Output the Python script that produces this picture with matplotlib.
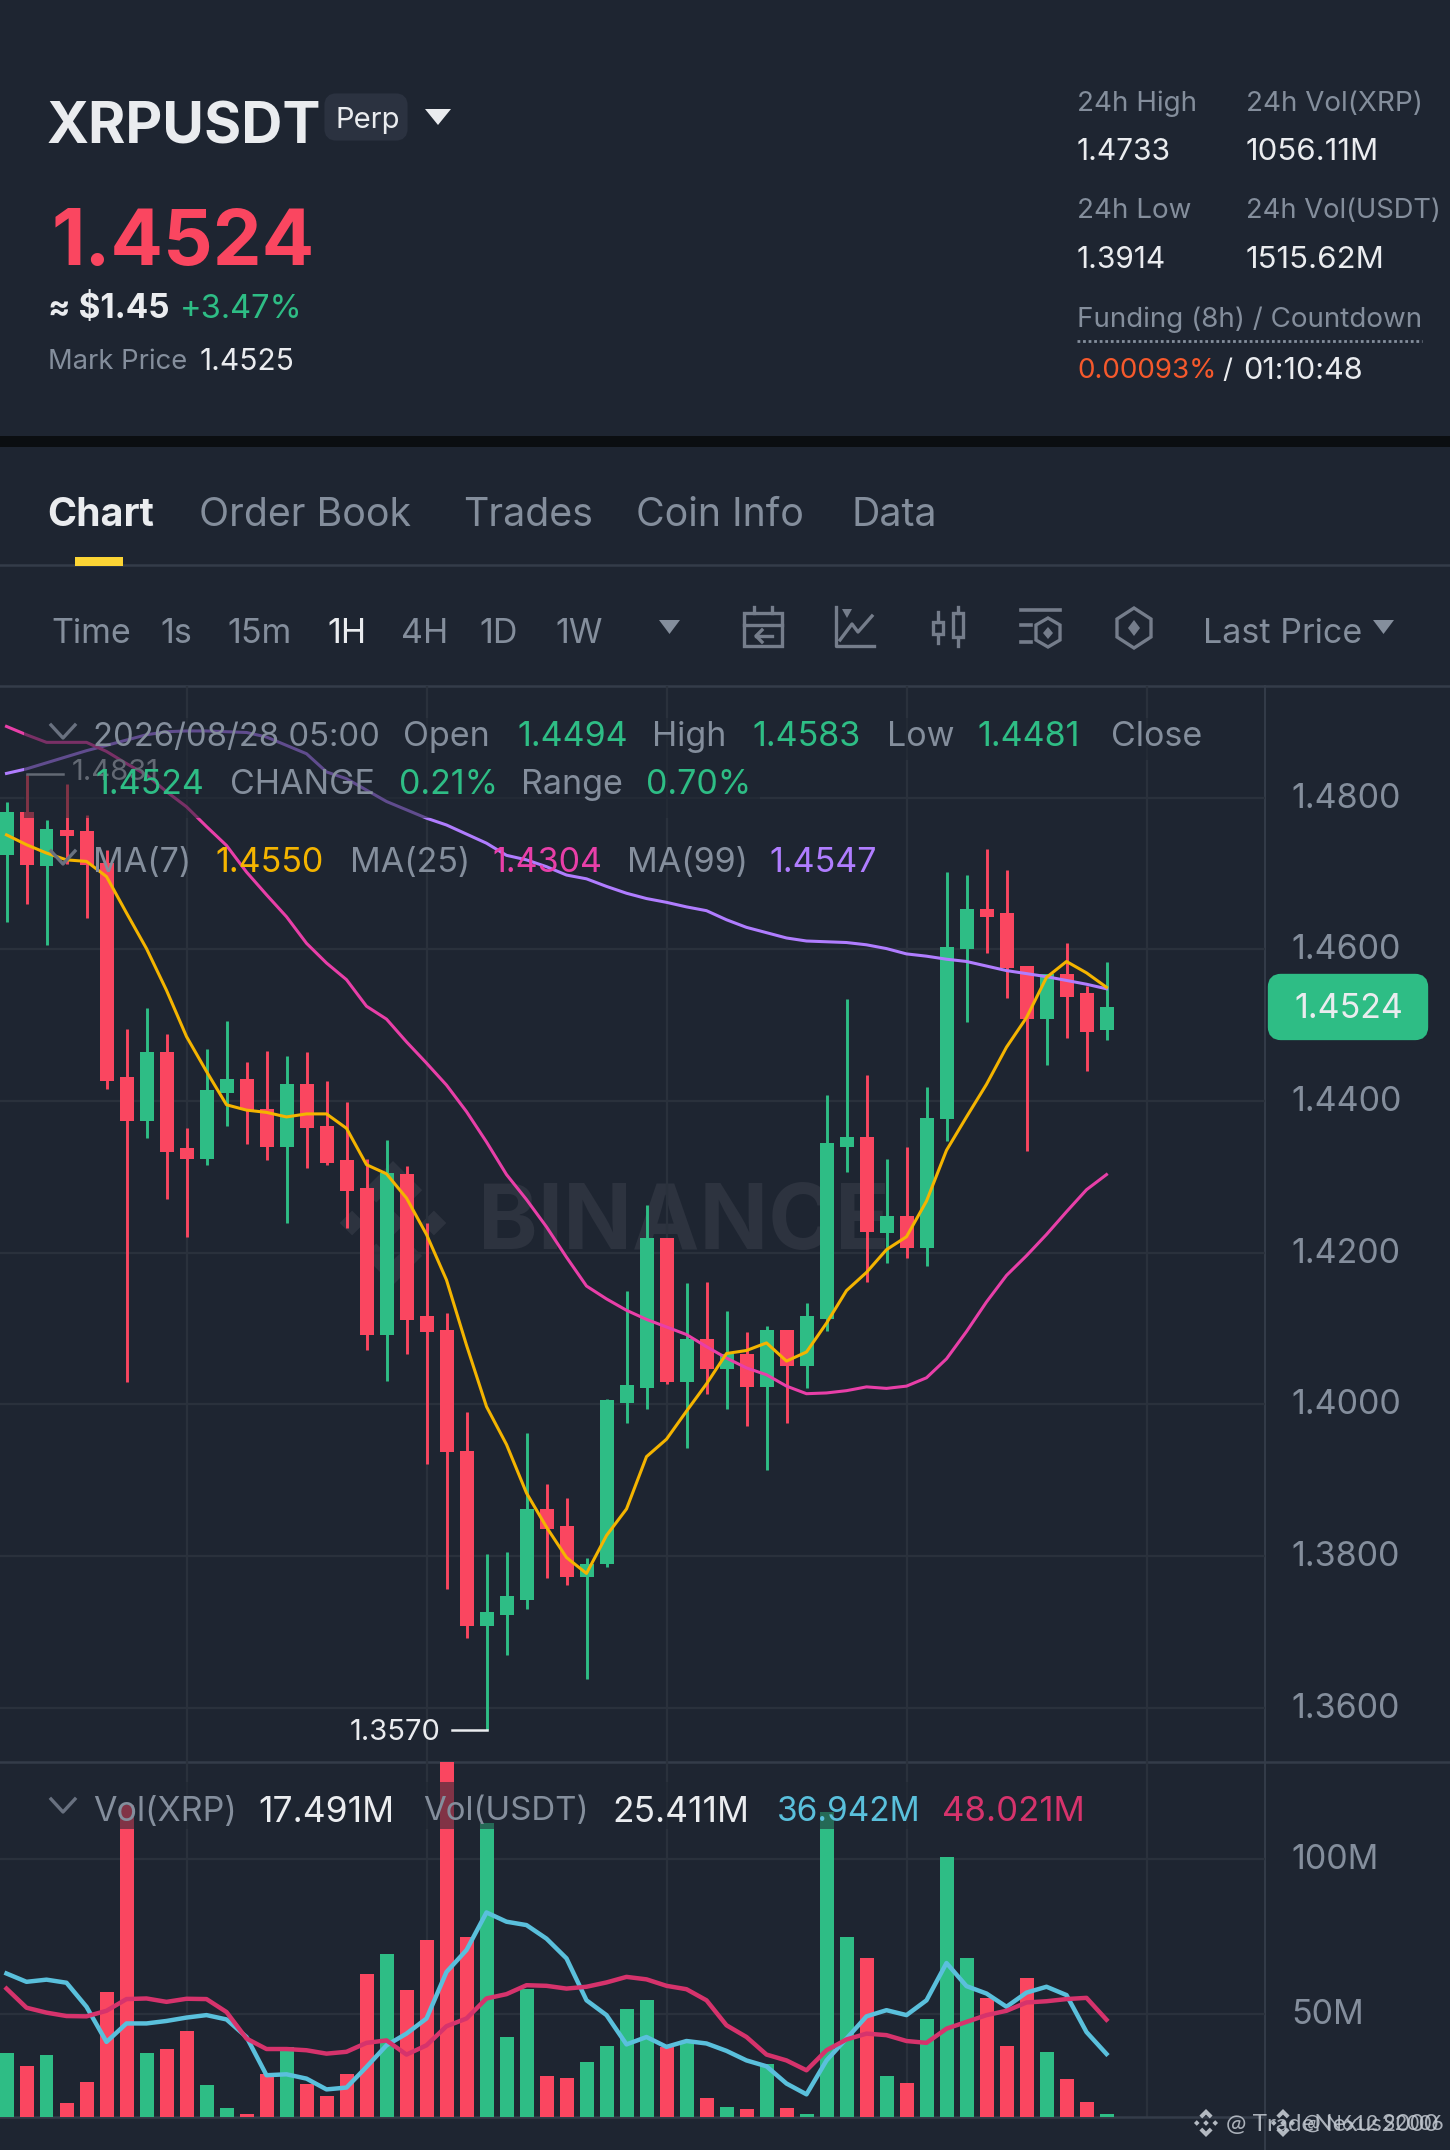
import numpy as np
import matplotlib
matplotlib.use("Agg")
import matplotlib.pyplot as plt
from matplotlib.patches import FancyBboxPatch, Polygon, Rectangle
from matplotlib.transforms import ScaledTranslation

plt.rcParams["font.family"] = ["Inter", "DejaVu Sans"]

# candles
opens = [1.4724, 1.4781, 1.4710, 1.4758, 1.4756, 1.4714, 1.4432, 1.4373, 1.4465, 1.4338, 1.4323, 1.4411, 1.4429, 1.4390,
         1.4340, 1.4422, 1.4367, 1.4322, 1.4285, 1.4091, 1.4304, 1.4116, 1.4098, 1.3939, 1.3708, 1.3722, 1.3742, 1.3862,
         1.3840, 1.3772, 1.3789, 1.4002, 1.4022, 1.4219, 1.4029, 1.4086, 1.4046, 1.4066, 1.4023, 1.4098, 1.4051, 1.4113,
         1.4339, 1.4352, 1.4226, 1.4248, 1.4206, 1.4376, 1.4601, 1.4653, 1.4648, 1.4578, 1.4508, 1.4568, 1.4542, 1.4494]
highs = [1.4794, 1.4831, 1.4771, 1.4818, 1.4777, 1.4731, 1.4495, 1.4522, 1.4489, 1.4365, 1.4469, 1.4505, 1.4451, 1.4466,
         1.4459, 1.4464, 1.4426, 1.4399, 1.4323, 1.4349, 1.4314, 1.4239, 1.4120, 1.3990, 1.3803, 1.3805, 1.3962, 1.3895,
         1.3877, 1.3797, 1.4007, 1.4149, 1.4263, 1.4219, 1.4160, 1.4161, 1.4123, 1.4096, 1.4103, 1.4098, 1.4134, 1.4408,
         1.4535, 1.4434, 1.4323, 1.4339, 1.4418, 1.4702, 1.4698, 1.4732, 1.4704, 1.4578, 1.4568, 1.4609, 1.4552, 1.4583]
lows = [1.4636, 1.4660, 1.4606, 1.4712, 1.4642, 1.4416, 1.4029, 1.4351, 1.4271, 1.4221, 1.4315, 1.4367, 1.4343, 1.4322,
        1.4239, 1.4311, 1.4315, 1.4232, 1.4071, 1.4031, 1.4067, 1.3921, 1.3757, 1.3692, 1.3570, 1.3669, 1.3730, 1.3771,
        1.3762, 1.3638, 1.3786, 1.3975, 1.3994, 1.4027, 1.3942, 1.4013, 1.3994, 1.3971, 1.3914, 1.3975, 1.4021, 1.4097,
        1.4307, 1.4161, 1.4187, 1.4193, 1.4183, 1.4347, 1.4504, 1.4595, 1.4536, 1.4334, 1.4448, 1.4483, 1.4439, 1.4481]
closes = [1.4781, 1.4711, 1.4759, 1.4750, 1.4711, 1.4427, 1.4373, 1.4465, 1.4333, 1.4323, 1.4415, 1.4429, 1.4388, 1.4340,
          1.4422, 1.4364, 1.4318, 1.4281, 1.4091, 1.4305, 1.4111, 1.4095, 1.3937, 1.3708, 1.3726, 1.3747, 1.3862, 1.3836,
          1.3772, 1.3789, 1.4006, 1.4026, 1.4219, 1.4029, 1.4086, 1.4046, 1.4066, 1.4023, 1.4098, 1.4050, 1.4117, 1.4344,
          1.4353, 1.4227, 1.4248, 1.4206, 1.4378, 1.4603, 1.4653, 1.4643, 1.4575, 1.4508, 1.4568, 1.4537, 1.4491, 1.4524]

ma7 = [1.4751, 1.4738, 1.4727, 1.4718, 1.4716, 1.4696, 1.4648, 1.4601, 1.4546, 1.4485, 1.4439, 1.4395, 1.4388, 1.4385,
       1.4379, 1.4383, 1.4383, 1.4364, 1.4316, 1.4304, 1.4272, 1.4224, 1.4164, 1.4078, 1.3997, 1.3947, 1.3883, 1.3838,
       1.3798, 1.3777, 1.3827, 1.3862, 1.3931, 1.3954, 1.3991, 1.4027, 1.4067, 1.4071, 1.4081, 1.4057, 1.4069, 1.4107,
       1.4150, 1.4174, 1.4204, 1.4221, 1.4268, 1.4335, 1.4379, 1.4422, 1.4471, 1.4510, 1.4563, 1.4584, 1.4569, 1.4550]
ma25 = [1.4894, 1.4883, 1.4873, 1.4873, 1.4873, 1.4861, 1.4845, 1.4830, 1.4808, 1.4788, 1.4762, 1.4737, 1.4702, 1.4672,
        1.4643, 1.4608, 1.4582, 1.4560, 1.4525, 1.4508, 1.4478, 1.4450, 1.4421, 1.4386, 1.4346, 1.4303, 1.4270, 1.4234,
        1.4194, 1.4156, 1.4139, 1.4124, 1.4112, 1.4102, 1.4092, 1.4076, 1.4061, 1.4048, 1.4039, 1.4024, 1.4014, 1.4015,
        1.4018, 1.4023, 1.4021, 1.4024, 1.4035, 1.4060, 1.4096, 1.4135, 1.4170, 1.4196, 1.4224, 1.4254, 1.4283, 1.4303]
ma99 = [1.4832, 1.4838, 1.4846, 1.4854, 1.4862, 1.4869, 1.4876, 1.4883, 1.4887, 1.4888, 1.4888, 1.4887, 1.4886, 1.4880,
        1.4869, 1.4858, 1.4834, 1.4825, 1.4810, 1.4795, 1.4784, 1.4773, 1.4764, 1.4752, 1.4740, 1.4724, 1.4718, 1.4709,
        1.4698, 1.4693, 1.4683, 1.4674, 1.4667, 1.4662, 1.4656, 1.4651, 1.4639, 1.4629, 1.4622, 1.4615, 1.4611, 1.4610,
        1.4609, 1.4606, 1.4601, 1.4594, 1.4591, 1.4587, 1.4584, 1.4578, 1.4572, 1.4568, 1.4564, 1.4559, 1.4554, 1.4548]

# volume in millions
volumes = [37.3, 32.9, 36.5, 21.0, 27.8, 57.0, 117.6, 37.1, 38.4, 44.5, 26.9, 19.4, 17.5, 30.3, 39.2, 27.1, 23.4, 30.3,
           62.7, 69.3, 57.5, 73.8, 135.0, 74.7, 111.7, 42.4, 58.1, 29.7, 29.0, 34.3, 39.4, 51.6, 54.3, 39.2, 40.3, 22.7,
           19.6, 18.9, 33.8, 19.5, 17.5, 115.5, 74.7, 68.1, 29.7, 27.4, 48.4, 100.9, 67.9, 55.1, 39.5, 61.5, 37.6, 28.8,
           21.3, 17.5]
vol_ma5 = [63.0, 60.3, 61.0, 60.0, 52.2, 40.8, 46.8, 46.8, 47.6, 48.7, 49.5, 48.1, 42.4, 30.0, 30.3, 28.9, 25.4, 26.0,
           32.7, 39.7, 43.5, 48.4, 63.5, 70.6, 82.8, 79.8, 78.7, 74.3, 67.9, 54.3, 49.5, 40.0, 42.4, 39.2, 41.1, 40.3,
           37.9, 34.8, 32.9, 27.3, 23.8, 34.8, 41.9, 49.1, 51.1, 49.5, 54.3, 66.4, 58.9, 56.5, 52.2, 56.8, 58.7, 56.0,
           44.0, 36.9]
vol_ma10 = [58.1, 51.9, 50.3, 49.2, 49.1, 50.9, 54.7, 54.9, 53.8, 54.8, 54.7, 50.5, 41.9, 38.5, 38.5, 38.1, 37.0, 37.6,
            40.5, 41.3, 36.7, 39.7, 45.9, 48.4, 54.9, 56.3, 59.2, 59.0, 58.1, 58.7, 60.1, 61.9, 61.1, 59.0, 57.9, 54.3,
            46.2, 42.4, 36.7, 34.8, 31.6, 38.1, 41.6, 43.5, 43.0, 41.1, 40.5, 45.1, 47.3, 49.5, 50.9, 53.6, 54.0, 54.7,
            55.1, 48.0]

price_ticks = [1.36, 1.38, 1.40, 1.42, 1.44, 1.46, 1.48]
price_tick_labels = ["1.3600", "1.3800", "1.4000", "1.4200", "1.4400", "1.4600", "1.4800"]
vol_ticks = [50, 100]
vol_tick_labels = ["50M", "100M"]
time_grid = [9, 21, 33, 45, 57]

BG = "#1e2531"
GRID = "#2a313c"
SEP = "#343c49"
GREEN = "#2ebd85"
RED = "#fa4660"
GRAY = "#848e9c"
WHITE = "#eaecef"
YELLOW = "#f4b400"
PINK = "#e83fa8"
PURPLE = "#b07dff"
CYAN = "#5ac0dc"
DARKPINK = "#d6336c"
W, H = 1450, 2150


def rect(l, t, r, b):
    return [l / W, 1 - b / H, (r - l) / W, (b - t) / H]


def logo(ax, cx, cy, s, color, alpha=1.0, z=1):
    for dx in (-0.66, 0, 0.66):
        r = 0.2
        ax.add_patch(Polygon([(cx + (dx - r) * s, cy), (cx + dx * s, cy - r * s), (cx + (dx + r) * s, cy),
                              (cx + dx * s, cy + r * s)], color=color, alpha=alpha, lw=0, zorder=z))
    shape = [(0, -1), (.47, -.53), (.27, -.33), (0, -.6), (-.27, -.33), (-.47, -.53)]
    for sign in (1, -1):
        pts = [(cx + a * s, cy + sign * b * s) for a, b in shape]
        ax.add_patch(Polygon(pts, color=color, alpha=alpha, lw=0, zorder=z))


def chevron(ax, y):
    ax.plot([51, 63, 75], [y - 7, y + 6, y - 7], color="#697180", lw=2.4, zorder=6)


def label(x, y, s, color=GRAY, size=24.5, weight="normal", ha="left"):
    top.text(x, y + 2, s, color=color, fontsize=size, fontweight=weight, ha=ha, va="center", zorder=7)


fig = plt.figure(figsize=(W / 100, H / 100), dpi=100, facecolor=BG)

bg = fig.add_axes([0, 0, 1, 1], zorder=0)
bg.set_xlim(0, W)
bg.set_ylim(H, 0)
bg.axis("off")
bg.add_patch(Rectangle((0, 436), W, 11, color="#0b0e11", lw=0))
bg.plot([0, W], [565, 565], color=SEP, lw=1.8)
bg.plot([0, W], [686, 686], color=SEP, lw=1.8)
bg.plot([0, W], [1762, 1762], color=SEP, lw=1.8)
bg.plot([1265, 1265], [686, H], color=SEP, lw=1.4)
bg.text(478, 1225, "BINANCE", color="#2d333f", fontsize=65, fontweight="bold", va="center", ha="left", zorder=1)
logo(bg, 393, 1223, 62, "#2d333f")

x = np.arange(len(opens))
o = np.array(opens)
c = np.array(closes)
colors = [GREEN if a >= b else RED for a, b in zip(c, o)]

# price pane
ax = fig.add_axes(rect(0, 686, 1265, 1762), zorder=1)
ax.patch.set_alpha(0)
ax.set_xlim(-0.325, 62.925)
ax.set_ylim(1.35283, 1.49473)
ax.set_yticks(price_ticks)
ax.set_yticklabels(price_tick_labels)
ax.yaxis.tick_right()
ax.tick_params(axis="y", length=0, pad=19, labelsize=24.5, labelcolor=GRAY)
ax.set_xticks(time_grid)
ax.tick_params(axis="x", length=0, labelbottom=False)
ax.grid(True, color=GRID, lw=1.6)
ax.set_axisbelow(True)
for sp in ax.spines.values():
    sp.set_visible(False)
ax.vlines(x, lows, highs, colors=colors, lw=2.1, zorder=2)
ax.bar(x, np.maximum(np.abs(c - o), 0.0002), bottom=np.minimum(o, c), width=0.7, color=colors, lw=0, zorder=3)
ax.plot(x, ma99, color=PURPLE, lw=2.2, zorder=4)
ax.plot(x, ma25, color=PINK, lw=2.2, zorder=4)
ax.plot(x, ma7, color=YELLOW, lw=2.2, zorder=5)

# max / min markers
ax.plot([1, 2.8], [max(highs), max(highs)], color="#b7bdc6", lw=1.8, zorder=4)
ax.text(3.25, max(highs) + 0.0002, "1.4831", color="#b7bdc6", fontsize=21, va="center", zorder=4)
ax.plot([22.25, 24], [min(lows), min(lows)], color=WHITE, lw=1.8, zorder=4)
ax.text(21.7, min(lows) - 0.0003, "1.3570", color=WHITE, fontsize=21, va="center", ha="right", zorder=4)

# volume pane
vax = fig.add_axes(rect(0, 1762, 1265, 2117), zorder=1)
vax.patch.set_alpha(0)
vax.set_xlim(-0.325, 62.925)
vax.set_ylim(16.45, 131.6)
vax.set_yticks(vol_ticks)
vax.set_yticklabels(vol_tick_labels)
vax.yaxis.tick_right()
vax.tick_params(axis="y", length=0, pad=19, labelsize=24.5, labelcolor=GRAY)
vax.set_xticks(time_grid)
vax.tick_params(axis="x", length=0, labelbottom=False)
vax.grid(True, color=GRID, lw=1.6)
vax.set_axisbelow(True)
for name, sp in vax.spines.items():
    sp.set_visible(name == "bottom")
vax.spines["bottom"].set_color(SEP)
vax.spines["bottom"].set_linewidth(1.8)
vax.bar(x, np.array(volumes) - 16.45, bottom=16.45, width=0.7, color=colors, lw=0, zorder=3)
vax.plot(x, vol_ma5, color=CYAN, lw=3.2, zorder=4)
vax.plot(x, vol_ma10, color=DARKPINK, lw=3.2, zorder=5)

# tick labels sit a little above their grid lines
for t in ax.get_yticklabels() + vax.get_yticklabels():
    t.set_transform(t.get_transform() + ScaledTranslation(0, 0.025, fig.dpi_scale_trans))

# everything above the chart
top = fig.add_axes([0, 0, 1, 1], zorder=3)
top.set_xlim(0, W)
top.set_ylim(H, 0)
top.axis("off")
for l, t, r, b in [(24, 718, 1210, 760), (24, 760, 760, 818), (24, 1782, 1090, 1829)]:
    top.add_patch(Rectangle((l, t), r - l, b - t, color=BG, alpha=0.55, lw=0, zorder=5))

# header
label(47, 127, "XRPUSDT", WHITE, 41, "bold")
top.add_patch(FancyBboxPatch((330, 99), 72, 36, boxstyle="round,pad=0,rounding_size=6", mutation_aspect=1,
                             facecolor="#2b3240", edgecolor="#2b3240", lw=8, zorder=5))
label(336, 119, "Perp", WHITE, 21)
top.add_patch(Polygon([(425, 109), (451, 109), (438, 125)], color=WHITE, lw=0, zorder=6))
label(52, 242, "1.4524", RED, 56, "bold")
label(48, 307, "≈ $1.45", WHITE, 24, "bold")
label(180, 307, "+3.47%", GREEN, 23.5)
label(48, 360, "Mark Price", GRAY, 19.7)
label(200, 360, "1.4525", WHITE, 21.5)

label(1077, 102, "24h High", GRAY, 20)
label(1246, 102, "24h Vol(XRP)", GRAY, 20)
label(1077, 150, "1.4733", WHITE, 21.5)
label(1246, 150, "1056.11M", WHITE, 22.5)
label(1077, 209, "24h Low", GRAY, 20)
label(1246, 209, "24h Vol(USDT)", GRAY, 19.7)
label(1077, 258, "1.3914", WHITE, 21.5)
label(1246, 258, "1515.62M", WHITE, 22.5)
label(1077, 318, "Funding (8h) / Countdown", GRAY, 20)
top.plot([1077, 1422], [341, 341], color=GRAY, lw=2, ls=(0, (1, 1)), zorder=6)
label(1077, 369, "0.00093%", "#f6592c", 20)
label(1222, 369, "/", WHITE, 20)
label(1243, 369, "01:10:48", WHITE, 22)

# tabs
for tx, name, col in [(47, "Chart", WHITE), (199, "Order Book", GRAY), (463, "Trades", GRAY),
                      (636, "Coin Info", GRAY), (852, "Data", GRAY)]:
    label(tx, 513, name, col, 28.3, "bold" if name == "Chart" else "normal")
top.add_patch(Rectangle((75, 557), 48, 9, color="#fcd535", lw=0, zorder=6))

# toolbar
for tx, name, col in [(51, "Time", GRAY), (160, "1s", GRAY), (227, "15m", GRAY), (327, "1H", WHITE), (401, "4H", GRAY),
                      (479, "1D", GRAY), (555, "1W", GRAY), (1203, "Last Price", GRAY)]:
    label(tx, 632, name, col, 24.5)
for tl in (659, 1373):
    top.add_patch(Polygon([(tl, 620), (tl + 21, 620), (tl + 10.5, 634)], color=GRAY, lw=0, zorder=6))

ic = "#757d8b"
# calendar
top.add_patch(Rectangle((744, 613), 38, 33, fill=False, ec=ic, lw=2.4, zorder=6))
top.plot([744, 782], [625, 625], color=ic, lw=2.4, zorder=6)
top.plot([754, 754], [607, 613], color=ic, lw=2.4, zorder=6)
top.plot([772, 772], [607, 613], color=ic, lw=2.4, zorder=6)
top.plot([756, 772], [636, 636], color=ic, lw=2.4, zorder=6)
top.plot([762, 756, 762], [630, 636, 642], color=ic, lw=2.4, zorder=6)
# line chart
top.plot([836, 836, 874], [607, 646, 646], color=ic, lw=2.4, zorder=6)
top.plot([840, 852, 858, 872], [640, 624, 632, 616], color=ic, lw=2.4, zorder=6)
top.add_patch(Polygon([(842, 609), (852, 609), (847, 618)], color=ic, lw=0, zorder=6))
# candles
for cx, t, b, t2, b2 in [(938, 622, 634, 612, 643), (958, 613, 637, 607, 646)]:
    top.add_patch(Rectangle((cx - 5, t), 10, b - t, fill=False, ec=ic, lw=2.4, zorder=6))
    top.plot([cx, cx], [t2, t], color=ic, lw=2.4, zorder=6)
    top.plot([cx, cx], [b, b2], color=ic, lw=2.4, zorder=6)
# settings
top.plot([1021, 1060], [610, 610], color=ic, lw=2.6, zorder=6)
top.plot([1021, 1031], [625, 625], color=ic, lw=2.6, zorder=6)
top.plot([1021, 1031], [642, 642], color=ic, lw=2.6, zorder=6)
hexa = [(1048, 618), (1060, 625), (1060, 640), (1048, 647), (1036, 640), (1036, 625)]
top.add_patch(Polygon(hexa, fill=False, ec=ic, lw=2.4, zorder=6))
top.add_patch(Polygon([(1048, 627), (1053, 633), (1048, 639), (1043, 633)], color=ic, lw=0, zorder=6))
# hexagon
hexa2 = [(1134, 608), (1151, 619), (1151, 637), (1134, 648), (1117, 637), (1117, 619)]
top.add_patch(Polygon(hexa2, fill=False, ec=ic, lw=2.4, zorder=6))
top.add_patch(Polygon([(1134, 620), (1140, 628), (1134, 636), (1128, 628)], color=ic, lw=0, zorder=6))

# chart legend rows
chevron(top, 732)
label(93, 735, "2026/08/28 05:00", GRAY, 23.6)
for tx, s, col in [(403, "Open", GRAY), (517, "1.4494", GREEN), (652, "High", GRAY),
                   (752, "1.4583", GREEN), (887, "Low", GRAY), (977, "1.4481", GREEN), (1111, "Close", GRAY)]:
    label(tx, 735, s, col)
for tx, s, col in [(95, "1.4524", GREEN), (230, "CHANGE", GRAY), (399, "0.21%", GREEN), (521, "Range", GRAY),
                   (646, "0.70%", GREEN)]:
    label(tx, 783, s, col)
chevron(top, 858)
for tx, s, col in [(93, "MA(7)", GRAY), (215, "1.4550", YELLOW), (350, "MA(25)", GRAY), (492, "1.4304", PINK),
                   (627, "MA(99)", GRAY), (769, "1.4547", PURPLE)]:
    label(tx, 861, s, col)
chevron(top, 1806)
for tx, s, col, sz in [(93, "Vol(XRP)", GRAY, 24.5), (258, "17.491M", WHITE, 25.5), (423, "Vol(USDT)", GRAY, 23.8),
                       (612, "25.411M", WHITE, 25.5), (777, "36.942M", CYAN, 24), (942, "48.021M", DARKPINK, 25)]:
    label(tx, 1810, s, col, sz)

# price tag
last = closes[-1]
tag_y = 797.7 + (1.48 - last) / 0.00013188
top.add_patch(FancyBboxPatch((1272, tag_y - 29), 152, 58, boxstyle="round,pad=0,rounding_size=9", facecolor=GREEN,
                             edgecolor=GREEN, lw=6, zorder=6))
label(1349, tag_y, "1.4524", WHITE, 24.5, ha="center")

# account watermarks at the bottom
logo(top, 1206, 2123, 14, "#c4cad2", 0.9, 6)
logo(top, 1283, 2123, 14, "#c4cad2", 0.9, 6)
top.text(1226, 2124, "@ TradeNexus2000", color="#c4cad2", alpha=0.85, fontsize=17.5, va="center", family="Lato", zorder=6)
top.text(1303, 2124, "@ N612 S2006", color="#c4cad2", alpha=0.85, fontsize=15, va="center", family="Lato", zorder=6)

fig.savefig("out.png", dpi=100, facecolor=BG)
